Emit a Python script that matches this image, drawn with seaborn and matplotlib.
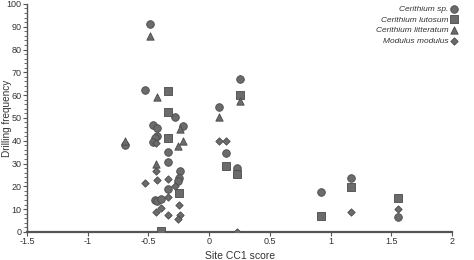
import numpy as np
import pandas as pd
import matplotlib
matplotlib.use("Agg")
import matplotlib.pyplot as plt
from matplotlib.ticker import MultipleLocator, FuncFormatter
import seaborn as sns

species = ["Cerithium sp.", "Cerithium lutosum", "Cerithium litteratum", "Modulus modulus"]

sp_x = [-0.49, -0.53, -0.28, -0.46, -0.43, -0.22, -0.43, -0.45, -0.46, -0.34, -0.34, -0.24,
        -0.25, -0.26, -0.34, -0.45, -0.43, -0.40, -0.69, 0.08, 0.25, 0.14, 0.23, 0.92, 1.17, 1.55]
sp_y = [91, 62.3, 50.3, 47, 45.5, 46.5, 42.2, 41, 39.6, 35.2, 30.7, 26.8,
        23.5, 22.3, 18.8, 14, 13.5, 14.5, 38, 55, 67, 34.5, 27.9, 17.7, 23.5, 6.4]

lut_x = [-0.34, -0.34, -0.34, -0.25, -0.40, 0.25, 0.14, 0.23, 0.92, 1.17, 1.55]
lut_y = [62, 52.7, 41.3, 17, 0.2, 60.1, 28.9, 25.4, 7.2, 19.9, 14.8]

lit_x = [-0.49, -0.43, -0.24, -0.22, -0.26, -0.44, -0.69, 0.25, 0.08]
lit_y = [86, 59, 45, 40, 37.5, 30, 40, 57.6, 50.3]

mod_x = [-0.44, -0.53, -0.43, -0.34, -0.28, -0.34, -0.25, -0.40, -0.44, -0.34, -0.24, -0.26,
         -0.44, 0.08, 0.14, 0.23, 1.17, 1.55]
mod_y = [26.7, 21.6, 22.8, 23.2, 20, 15.2, 11.6, 10.6, 8.9, 7.4, 7.3, 5.8,
         39.2, 40, 40, 0.1, 8.9, 10]

df = pd.concat([
    pd.DataFrame({"x": sp_x, "y": sp_y, "species": species[0]}),
    pd.DataFrame({"x": lut_x, "y": lut_y, "species": species[1]}),
    pd.DataFrame({"x": lit_x, "y": lit_y, "species": species[2]}),
    pd.DataFrame({"x": mod_x, "y": mod_y, "species": species[3]}),
], ignore_index=True)

sns.set_style("white")
plt.rcParams['font.family'] = ['Liberation Sans', 'DejaVu Sans']

fig = plt.figure(figsize=(4.74, 2.6), dpi=100)
ax = fig.add_axes([0.057, 0.108, 0.897, 0.877])

markers = {species[0]: "o", species[1]: "s", species[2]: "^", species[3]: "D"}
sizes_map = {species[0]: 30, species[1]: 26, species[2]: 28, species[3]: 14}

for sp in species:
    sub = df[df["species"] == sp]
    sns.scatterplot(data=sub, x="x", y="y", marker=markers[sp], s=sizes_map[sp],
                    color="#6b6b6b", edgecolor="#4a4a4a", linewidth=0.6,
                    ax=ax, label=sp, zorder=3)

ax.set_xlim(-1.5, 2)
ax.set_ylim(0, 100)
ax.xaxis.set_major_locator(MultipleLocator(0.5))
ax.xaxis.set_major_formatter(FuncFormatter(lambda v, p: f"{v:g}"))
ax.yaxis.set_major_locator(MultipleLocator(10))
ax.yaxis.set_minor_locator(MultipleLocator(2))

for s in ["top", "right"]:
    ax.spines[s].set_visible(False)
ax.spines["left"].set_color("#555555")
ax.spines["left"].set_linewidth(1.0)
ax.spines["bottom"].set_color("#555555")
ax.spines["bottom"].set_linewidth(1.6)

ax.tick_params(axis="both", which="major", direction="out", length=3, width=0.8,
               color="#555555", labelsize=6.5, labelcolor="#333333", pad=1)
ax.tick_params(axis="y", which="minor", direction="out", length=2, width=0.6, color="#555555")
ax.tick_params(axis="x", which="major", bottom=True)
ax.tick_params(axis="y", which="both", left=True)

ax.set_xlabel("Site CC1 score", fontsize=7.5, color="#333333", labelpad=3)
ax.set_ylabel("Drilling frequency", fontsize=7.2, color="#333333")
ax.yaxis.set_label_coords(-0.036, 0.5)

h, l = ax.get_legend_handles_labels()
leg = ax.legend(h, l, loc="upper right", markerfirst=False, frameon=False,
                handletextpad=0.3, labelspacing=0.35,
                borderaxespad=0.0, bbox_to_anchor=(1.02, 1.01), handlelength=0.8,
                prop={"style": "italic", "size": 6})
for t in leg.get_texts():
    t.set_color("#333333")

fig.savefig("out.png", dpi=100)
